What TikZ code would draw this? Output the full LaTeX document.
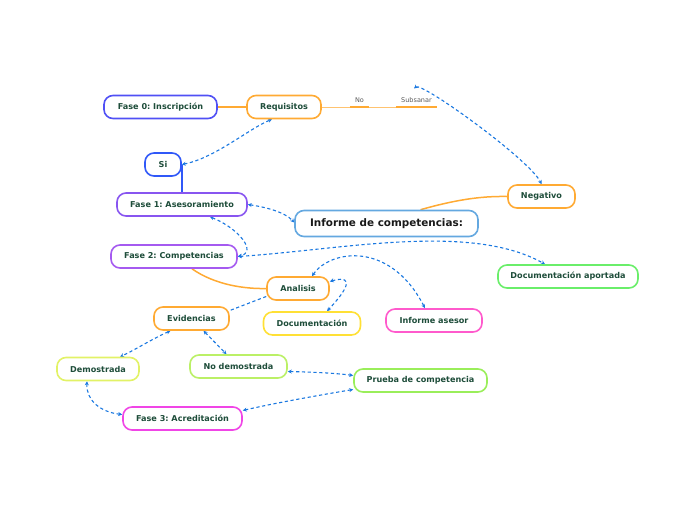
\documentclass[tikz,border=0pt]{standalone}
\usepackage{fontspec}
\setmainfont{DejaVu Sans}[BoldFont={DejaVu Sans Bold}]
\usetikzlibrary{arrows.meta,backgrounds}
\definecolor{txt}{HTML}{1E4D3A}
\definecolor{cblue}{HTML}{5050F5}
\definecolor{csi}{HTML}{3058F8}
\definecolor{cpur}{HTML}{8855F0}
\definecolor{cpur2}{HTML}{A55AF0}
\definecolor{corange}{HTML}{FFAA33}
\definecolor{clblue}{HTML}{64A8E0}
\definecolor{cgreen}{HTML}{6AEE6A}
\definecolor{cgreen2}{HTML}{9AEE5A}
\definecolor{cgreen3}{HTML}{BBF066}
\definecolor{cyg}{HTML}{E2F266}
\definecolor{cyellow}{HTML}{FFE035}
\definecolor{cpink}{HTML}{FF5ACC}
\definecolor{cmag}{HTML}{F045E6}
\definecolor{cdash}{HTML}{1A78E0}
\tikzset{
  box/.style={draw=#1, line width=1.6pt, rounded corners=9pt, fill=white,
    minimum height=23pt, inner sep=0pt, text=txt,
    font=\fontsize{8.1}{9}\selectfont\bfseries},
  lbl/.style={text=black!65, font=\fontsize{6.5}{7}\selectfont, inner xsep=0pt, inner ysep=4pt},
  dlink/.style={draw=cdash, line width=1.1pt, dash pattern=on 3.2pt off 2.6pt,
    {Stealth[length=4pt,width=4pt]}-{Stealth[length=4pt,width=4pt]}},
  dplain/.style={draw=cdash, line width=1.1pt, dash pattern=on 3.2pt off 2.6pt},
  olink/.style={draw=corange, line width=1.5pt},
}
\begin{document}
\frenchspacing
\begin{tikzpicture}[x=1pt,y=-1pt]
\useasboundingbox (0,0) rectangle (697,520);
% nodes
\node[box=cblue, minimum width=113pt] (f0) at (160.5,107) {Fase 0: Inscripción};
\node[box=corange, minimum width=74pt] (req) at (284,107) {Requisitos};
\node[lbl, anchor=south, minimum width=19pt] (no) at (359.5,107) {No};
\node[lbl, anchor=south, minimum width=41pt] (sub) at (416.5,107) {Subsanar};
\node[box=csi, minimum width=36pt] (si) at (163,164.5) {Si};
\node[box=cpur, minimum width=130pt] (f1) at (182,204.5) {Fase 1: Asesoramiento};
\node[box=clblue, minimum width=183pt, minimum height=26pt, text=black!90,
  font=\fontsize{10.4}{12}\selectfont\bfseries] (inf) at (386.5,223.5) {Informe de competencias:};
\node[box=corange, minimum width=67pt] (neg) at (541.5,196.5) {Negativo};
\node[box=cpur2, minimum width=126pt] (f2) at (174,256.5) {Fase 2: Competencias};
\node[box=cgreen, minimum width=140pt] (dap) at (568,276.5) {Documentación aportada};
\node[box=corange, minimum width=62pt] (an) at (298,288.5) {Analisis};
\node[box=cyellow, minimum width=97pt] (doc) at (312,323.5) {Documentación};
\node[box=cpink, minimum width=96pt] (ia) at (434,320.5) {Informe asesor};
\node[box=corange, minimum width=75pt] (ev) at (191.5,318.5) {Evidencias};
\node[box=cyg, minimum width=82pt] (dem) at (98,369) {Demostrada};
\node[box=cgreen3, minimum width=97pt] (nd) at (238.5,366.5) {No demostrada};
\node[box=cgreen2, minimum width=133pt] (pc) at (420.5,380.5) {Prueba de competencia};
\node[box=cmag, minimum width=119pt] (f3) at (182.5,418.5) {Fase 3: Acreditación};
\coordinate (subtop) at (414,88.5);
% connectors
\begin{scope}[on background layer]
\draw[olink] (f0.east) -- (req.west);
\draw[draw=corange!70, line width=0.9pt] (req.east) -- (no.south west);
\draw[draw=corange!70, line width=0.9pt] (no.south east) -- (sub.south west);
\draw[draw=corange, line width=2pt] (no.south west) -- (no.south east);
\draw[draw=corange, line width=2pt] (sub.south west) -- (sub.south east);
\draw[dlink] (subtop) .. controls (422,82) and (530,160) .. (neg.north);
\draw[olink] ([xshift=34pt]inf.north) .. controls (455,200) and (480,196) .. (neg.west);
\draw[dlink] (si.east) .. controls (215,158) and (250,128) .. ([xshift=-12pt]req.south);
\draw[draw=csi, line width=1.8pt] (f1.north) -- (f1.north |- si.center);
\draw[dlink] (f1.east) .. controls (265,207) and (285,212) .. ([yshift=1pt]inf.west);
\draw[dlink] ([xshift=28pt]f1.south) .. controls (238,228) and (258,252) .. (f2.east);
\draw[dlink] (f2.east) .. controls (340,250) and (470,222) .. ([xshift=-23pt]dap.north);
\draw[olink] ([xshift=18pt]f2.south) .. controls (215,285) and (245,289) .. (an.west);
\draw[dlink] ([xshift=14pt]an.north) .. controls (330,250) and (390,240) .. ([xshift=-9pt]ia.north);
\draw[dlink] ([yshift=7pt]an.east) .. controls (345,277) and (358,278) .. ([xshift=15pt]doc.north);
\draw[dplain] ([yshift=-8pt]an.west) -- ([yshift=8pt]ev.east);
\draw[dlink] ([xshift=-21pt]ev.south) .. controls (150,340) and (135,350) .. ([xshift=22pt]dem.north);
\draw[dlink] ([xshift=12pt]ev.south) -- ([xshift=-12pt]nd.north);
\draw[dlink] ([yshift=-5pt]nd.east) .. controls (310,372) and (335,373) .. ([yshift=5pt]pc.west);
\draw[dlink] ([yshift=-9pt]pc.west) .. controls (320,395) and (270,404) .. ([yshift=8pt]f3.east);
\draw[dlink] ([xshift=-11pt]dem.south) .. controls (86,400) and (100,412) .. ([yshift=4pt]f3.west);
\end{scope}
\end{tikzpicture}
\end{document}
